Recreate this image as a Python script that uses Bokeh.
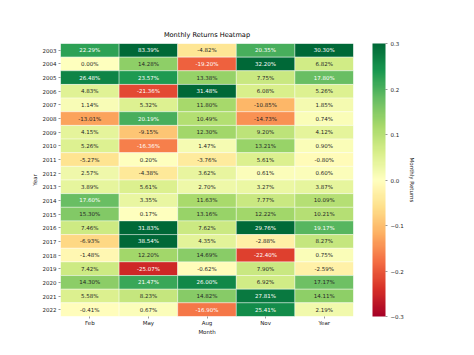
import numpy as np
from bokeh.plotting import figure
from bokeh.models import (ColumnDataSource, LinearColorMapper, ColorBar, FixedTicker,
                          FactorRange, CategoricalAxis)
from bokeh.core.properties import value
from bokeh.embed import file_html
from bokeh.resources import INLINE

years = [str(y) for y in range(2003, 2023)]
months = ["Feb", "May", "Aug", "Nov", "Year"]

feb = [22.29, 0.00, 26.48, 4.83, 1.14, -13.01, 4.15, 5.26, -5.27, 2.57,
       3.89, 17.60, 15.30, 7.46, -6.93, -1.48, 7.42, 14.30, 5.58, -0.41]
may = [83.39, 14.28, 23.57, -21.36, 5.32, 20.19, -9.15, -16.36, 0.20, -4.38,
       5.61, 3.35, 0.17, 31.83, 38.54, 12.20, -25.07, 21.47, 8.23, 0.67]
aug = [-4.82, -19.20, 13.38, 31.48, 11.80, 10.49, 12.30, 1.47, -3.76, 3.62,
       2.70, 11.63, 13.16, 7.62, 4.35, 14.69, -0.62, 26.00, 14.82, -16.90]
nov = [20.35, 32.20, 7.75, 6.08, -10.85, -14.73, 9.20, 13.21, 5.61, 0.61,
       3.27, 7.77, 12.22, 29.76, -2.88, -22.40, 7.90, 6.92, 27.81, 25.41]
year_col = [30.30, 6.82, 17.80, 5.26, 1.85, 0.74, 4.12, 0.90, -0.80, 0.60,
            3.87, 10.09, 10.21, 19.17, 8.27, 0.75, -2.59, 17.17, 14.11, 2.19]

cb_ticks = [-0.3, -0.2, -0.1, 0.0, 0.1, 0.2, 0.3]
vmin, vmax = -0.3, 0.3

# RdYlGn (ColorBrewer 11) interpolated to 256 like matplotlib
base = ['#a50026', '#d73027', '#f46d43', '#fdae61', '#fee08b', '#ffffbf',
        '#d9ef8b', '#a6d96a', '#66bd63', '#1a9850', '#006837']
rgb = np.array([[int(c[i:i + 2], 16) for i in (1, 3, 5)] for c in base], float) / 255
pos = np.linspace(0, 1, len(base))
t = np.linspace(0, 1, 256)
cmap = np.stack([np.interp(t, pos, rgb[:, k]) for k in range(3)], axis=1)
palette = ['#%02x%02x%02x' % tuple(int(round(v * 255)) for v in c) for c in cmap]


def lum(c):
    c = np.where(c <= 0.03928, c / 12.92, ((c + 0.055) / 1.055) ** 2.4)
    return 0.2126 * c[0] + 0.7152 * c[1] + 0.0722 * c[2]


cols = [feb, may, aug, nov, year_col]
xs, ys, vals, labels, tcs = [], [], [], [], []
for m, col in zip(months, cols):
    for y, v in zip(years, col):
        f = v / 100.0
        idx = int(np.clip(np.floor((f - vmin) / (vmax - vmin) * 256), 0, 255))
        xs.append(m)
        ys.append(y)
        vals.append(f)
        labels.append("%.2f%%" % v)
        tcs.append("#262626" if lum(cmap[idx]) > 0.408 else "#ffffff")

src = ColumnDataSource(dict(month=xs, year=ys, val=vals, label=labels, tc=tcs))
mapper = LinearColorMapper(palette=palette, low=vmin, high=vmax)

FONT = "DejaVu Sans"
p = figure(width=474, height=355, x_range=FactorRange(*months),
           y_range=FactorRange(*list(reversed(years))),
           output_backend="svg", toolbar_location=None,
           min_border_left=60, min_border_right=121, min_border_top=43, min_border_bottom=39,
           title="Monthly Returns Heatmap")
p.outline_line_color = None
p.background_fill_color = "white"
p.border_fill_color = "white"
p.title.align = "center"
p.title.text_font = FONT
p.title.text_font_size = "6.6px"
p.title.text_font_style = "normal"
p.title.text_color = "#000000"

p.rect(x="month", y="year", width=1, height=1, source=src,
       fill_color={'field': 'val', 'transform': mapper},
       line_color="white", line_width=0.4)
p.text(x="month", y="year", text="label", text_color="tc", source=src,
       text_font=value(FONT), text_font_size="5.5px",
       text_align="center", text_baseline="middle")

for ax in (p.xaxis[0], p.yaxis[0]):
    ax.axis_line_color = None
    ax.major_tick_in = 0
    ax.major_tick_out = 2
    ax.major_tick_line_color = "#333333"
    ax.major_tick_line_width = 0.5
    ax.major_label_text_font = FONT
    ax.major_label_text_font_size = "5.5px"
    ax.major_label_text_color = "#222222"
    ax.major_label_standoff = 2
    ax.axis_label_text_font = FONT
    ax.axis_label_text_font_size = "5.5px"
    ax.axis_label_text_font_style = "normal"
    ax.axis_label_text_color = "#222222"
    ax.axis_label_standoff = 2
p.xaxis.major_label_standoff = 1
p.xaxis.axis_label_standoff = 0
p.xaxis.axis_label = "Month"
p.yaxis.axis_label = "Year"
p.grid.grid_line_color = None

overrides = {tk: ("%.1f" % tk).replace("-", "\u2212") for tk in cb_ticks}
cb = ColorBar(color_mapper=mapper, width=13, height=273, location=(19, 0),
              margin=0, padding=0, ticker=FixedTicker(ticks=cb_ticks),
              major_label_overrides=overrides,
              major_label_text_font=FONT, major_label_text_font_size="5.5px",
              major_label_text_color="#222222",
              major_tick_in=0, major_tick_out=2, major_tick_line_color="#333333",
              major_tick_line_width=0.5, label_standoff=3,
              bar_line_color=None, border_line_color=None,
              background_fill_color=None)
p.add_layout(cb, "right")

# colorbar label as an extra right axis with hidden ticks/labels
lab_ax = CategoricalAxis(axis_label="Monthly Returns", axis_line_color=None,
                         major_tick_line_color=None, minor_tick_line_color=None,
                         major_label_overrides={y: " " for y in years},
                         major_label_text_color=None,
                         major_label_text_font_size="5.5px", major_label_standoff=0,
                         major_tick_out=0, major_tick_in=0,
                         axis_label_text_font=FONT, axis_label_text_font_size="5.5px",
                         axis_label_text_font_style="normal", axis_label_text_color="#222222",
                         axis_label_standoff=2)
if "axis_label_orientation" in lab_ax.properties():
    lab_ax.axis_label_orientation = "vertical"
p.add_layout(lab_ax, "right")

open("out.html", "w").write(file_html(p, INLINE))
